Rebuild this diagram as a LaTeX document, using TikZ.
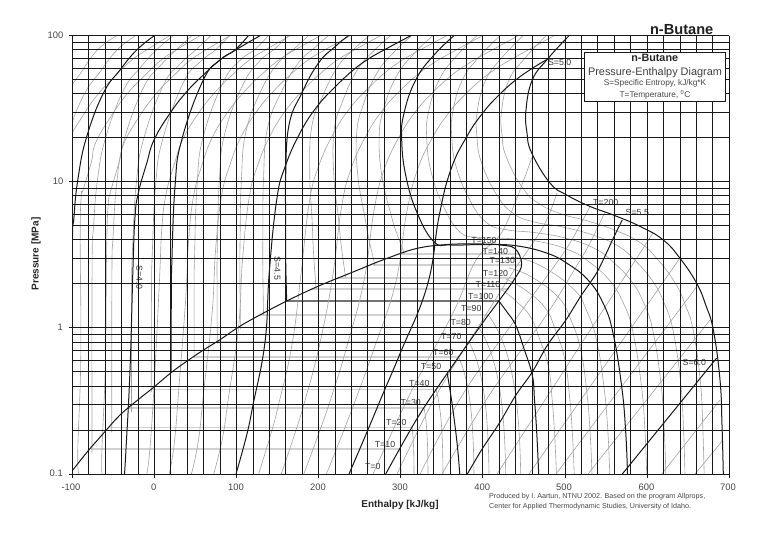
\documentclass[tikz,border=0pt]{standalone}
\usepackage{fontspec}
\setmainfont{Liberation Sans}
\tikzset{
  thinc/.style={draw=black!36,line width=.6pt},
  wetc/.style={draw=black!18,line width=1.1pt},
  heavy/.style={draw=black!90,line width=1pt,line join=round},
  gridln/.style={draw=black!90,line width=.95pt},
  txt/.style={inner sep=0pt,text=black!72,font=\fontsize{9.4}{11}\selectfont},
  lab/.style={inner sep=0pt,text=black!78,font=\fontsize{8.8}{10}\selectfont},
  axl/.style={inner sep=0pt,text=black!85,font=\fontsize{10}{12}\selectfont\bfseries},
  credit/.style={inner sep=0pt,anchor=west,text=black!72,font=\fontsize{7.15}{9}\selectfont},
}
% guide curves (pixel coordinates)
\def\TzX{{72.3,72.3,74,78.3,86.7,103.3,120,136.7,154.3}}
\def\TzY{{472,260,216.7,176.7,136.7,93.3,70,50,35.7}}
\def\TfX{{171,171.3,171.7,175,181.7,203.3,220,235,248.3}}
\def\TfY{{372,300,266.7,186.7,140,80,60,50,35.7}}
\def\ThX{{286.7,285.7,285.7,285.7,289,301.7,318.3,335,348.3}}
\def\ThY{{301,260,220,175,125,93.3,63.3,46.7,35.7}}
\def\TcX{{434,425,417.3,406,401.7,404,415.7,434,454}}
\def\TcY{{241.7,228,213.3,176.7,140,113.3,80,55,35.7}}
\def\ThaX{{499,507,515.7,524,532.3,534.5,536.7,538.7}}
\def\ThaY{{301.3,312,325.3,348.7,375.3,400,432,474}}
\def\TcaX{{515.7,547.3,588,603,613,621.7,625.7,627.5}}
\def\TcaY{{245.7,253.3,280,303,333,386.7,432,474}}
\def\TAX{{454,434,415.7,404,401.7,406,417.3,434,450,484,515.7,547.3,568,588,603,613,621.7,625.7,627.5}}
\def\TAY{{35.7,55,80,113.3,140,176.7,213.3,241.7,245,244.5,245.7,253.3,264,280,303,333,386.7,432,474}}
\def\TBX{{569,547.3,532.3,526,527,531.7,550,566.7,590.7,613.3,640.7,663.3,680,696.7,705.7,713.3,720,722,723.3}}
\def\TBY{{35.7,59.3,80,110,133,153,183,195,206.7,215,226.7,240,258.3,283.3,305,330,380,425,474}}
\def\SaX{{124.5,126,130,133,135,138.3,146.7,154,170,186.7,203.3,220,236.7,260}}
\def\SaY{{474,449,370,267,217,193,163.3,140,113.3,91.7,75,60,49.3,35.7}}
\def\SbX{{236,246.7,253,265,269.3,276.7,285,300,316.7,335,353.3,368.3,384,410.7}}
\def\SbY{{474,435,405,342,272,200,167,133,107,87,70,59,50,35.7}}
\def\ScX{{349,366.7,383,400.7,427.3,439,450.7,466.7,483,499,515.7,532.3,547.3,590}}
\def\ScY{{474,432.7,393.7,352,285.3,216.7,170,136.7,112.7,95,80,68.3,59.3,35.7}}
\newcommand{\blend}[6]{%
  \foreach \f in {#6} {
    \draw[thinc] plot[smooth,tension=.75,variable=\k,samples at={0,...,#5}]
      ({(1-(\f))*#1[int(\k)]+(\f)*#3[int(\k)]},{(1-(\f))*#2[int(\k)]+(\f)*#4[int(\k)]});
  }}
\newcommand{\blackcurve}[3]{%
  \draw[heavy] plot[smooth,tension=.75,variable=\k,samples at={0,...,#3}]
    ({#1[int(\k)]},{#2[int(\k)]});}
\begin{document}
\begin{tikzpicture}[x=1pt,y=-1pt]
\useasboundingbox (0,0) rectangle (768,543);
\fill[white] (0,0) rectangle (768,543);
\begin{scope}
\clip (72.3,35.7) rectangle (729.3,474);
% wet-region isotherms
\foreach \yy/\xa/\xb in {449/90.5/399.5,427.5/109/412,408/127/424,389.5/151/436,357/193/458.5,342/216/469,315/260/488.5,289/311/508.5,278/337/515,265/373/521.7,254/401/519.5}
  \draw[wetc] (\xa,\yy) -- (\xb,\yy);
\draw[draw=black!55,line width=1.3pt] (286.7,301) -- (499,301);
% liquid / dense isotherms (grey)
\blend{\TzX}{\TzY}{\TfX}{\TfY}{8}{-0.4,-0.2,0.2,0.4,0.6,0.8}
\blend{\TfX}{\TfY}{\ThX}{\ThY}{8}{0.2,0.4,0.6,0.8}
\blend{\ThX}{\ThY}{\TcX}{\TcY}{8}{0.2,0.4,0.6,0.8}
% vapour isotherms (grey)
\foreach \xs/\ys/\xe in {399.5/449/401,412/427.5/414,424/408/428,436/389.5/443,458.5/357/474,469/342/489,479/328/505.7,488.5/315/520.7}{
  \pgfmathsetmacro\ca{\xs+.78*(\xe-\xs)}
  \pgfmathsetmacro\cb{\ys+.22*(474-\ys)}
  \pgfmathsetmacro\cc{\xe-.04*(\xe-\xs)}
  \pgfmathsetmacro\cd{\ys+.57*(474-\ys)}
  \draw[thinc] (\xs,\ys) .. controls (\ca,\cb) and (\cc,\cd) .. (\xe,474);
}
\blend{\ThaX}{\ThaY}{\TcaX}{\TcaY}{7}{0.2,0.4,0.6,0.8}
\blend{\TAX}{\TAY}{\TBX}{\TBY}{18}{0.2,0.4,0.6,0.8}
% constant entropy (grey)
\blend{\SaX}{\SaY}{\SbX}{\SbY}{13}{-0.6,-0.4,-0.2,0.2,0.4,0.6,0.8}
\blend{\SbX}{\SbY}{\ScX}{\ScY}{13}{0.2,0.4,0.6,0.8}
\draw[thinc] plot[smooth,tension=.6] coordinates {(373,474) (410,394) (453,313) (476,260) (500,235) (515,203) (531.7,158)};
\draw[thinc] plot[smooth,tension=.6] coordinates {(397,474) (437,394) (487,313) (513,272) (543,227) (557,193)};
\draw[thinc] plot[smooth,tension=.6] coordinates {(420,474) (463,394) (520,313) (550,272) (570,243) (590,206.7)};
\draw[thinc] plot[smooth,tension=.6] coordinates {(442,474) (490,394) (543,320) (573,272) (590,243) (605,212)};
\draw[thinc] (497,474) -- (653,233);
\draw[thinc] (529,474) -- (680,258);
\draw[thinc] (556,474) -- (696.7,286.7);
\draw[thinc] (588,474) -- (710,320);
\draw[thinc] (661.7,474) -- (720,400);
\draw[thinc] (695,474) -- (723,440);
% black curves
\draw[heavy] plot[smooth,tension=.6] coordinates {(72.3,470.7) (88,451) (104,432.7) (120,415) (137.7,400) (154,387) (171,372.7) (186.7,361.3) (203,350.3) (220,339.7) (236,328.7) (253,318.7) (286.7,301) (318.7,286) (353,272) (384,259.5) (417.3,248.3) (450.7,244.3) (484,244) (500,245) (515,248.5) (521.7,264) (515,278.3) (498.3,301.7) (482,323.7) (447,373.7) (417,418.7) (385.7,474)};
\blackcurve{\TzX}{\TzY}{8}
\blackcurve{\TfX}{\TfY}{8}
\blackcurve{\ThX}{\ThY}{8}
\blackcurve{\TAX}{\TAY}{18}
\blackcurve{\TBX}{\TBY}{18}
\blackcurve{\ThaX}{\ThaY}{7}
\blackcurve{\SaX}{\SaY}{13}
\blackcurve{\SbX}{\SbY}{13}
\blackcurve{\ScX}{\ScY}{12}
\draw[heavy] plot[smooth,tension=.7] coordinates {(447.3,373.7) (452.3,405.3) (457.3,445.3) (459.7,474)};
\draw[heavy] plot[smooth,tension=.5] coordinates {(467.3,474) (482.3,448.7) (499,423.7) (515.7,395.3) (532.3,372) (547.3,345.3) (565.7,320.3) (581.3,295.3) (597.3,271.7) (614,236.7) (622.3,220)};
\draw[heavy] (622.3,474) -- (716.7,358);
\end{scope}
% curve labels
\foreach \nm/\tx/\px/\py in {a/T=0/372.7/466,b/T=10/385/444.7,c/T=20/396.3/422.7,d/T=30/410.7/402,e/T=40/419.3/383.7,f/T=50/431/366.7,g/T=60/443.3/352.7,h/T=70/451.3/336.3,i/T=80/460.7/322,j/T=90/471.3/308.7,k/T=100/480.7/296,l/T=110/488/284.7,m/T=120/495.5/273.5,n/T=130/502.3/260.7,o/T=140/495.3/251.3,p/T=150/484/240,q/T=200/605.7/202.3,r/S=5.5/637.3/212.3,s/S=6.0/694.3/362.7,t/S=5.0/559.7/62.7}
  \node[lab] (lab\nm) at (\px,\py) {\tx};
\node[lab,rotate=-90] (labsa) at (139.3,277.3) {S=4.0};
\node[lab,rotate=-90] (labsb) at (277.3,268.3) {S=4.5};
% grid
\foreach \d in {0,1,2}
  \foreach \m in {1,...,9}{
    \pgfmathsetmacro\yy{474-146.1*(\d+log10(\m))}
    \draw[gridln] (72.3,\yy) -- (729.3,\yy);
  }
\draw[gridln] (72.3,35.7) -- (729.3,35.7);
\foreach \n in {0,...,40}{
  \pgfmathsetmacro\xx{72.3+16.426*\n}
  \draw[gridln] (\xx,35.7) -- (\xx,474);
}
% ticks
\foreach \yy in {35.7,181.8,327.9,474} \draw[gridln] (68.5,\yy) -- (72.3,\yy);
\foreach \n in {0,...,8}{
  \pgfmathsetmacro\xx{72.3+82.13*\n}
  \draw[gridln] (\xx,474) -- (\xx,477.5);
}
% tick labels
\node[txt,anchor=east] (ya) at (63.5,35) {100};
\node[txt,anchor=east] (yb) at (63.5,181.5) {10};
\node[txt,anchor=east] (yc) at (63,327) {1};
\node[txt,anchor=east] (yd) at (63,473) {0.1};
\foreach \nm/\v/\xx in {a/-100/71,b/0/153.7,c/100/236,d/200/318,e/300/400,f/400/482.3,g/500/564,h/600/646.5,i/700/728}
  \node[txt] (x\nm) at (\xx,487.7) {\v};
\node[axl] (xtitle) at (400,504.7) {Enthalpy [kJ/kg]};
\node[axl,rotate=90] (ytitle) at (36,254) {Pressure [MPa]};
% title and legend
\node[inner sep=0pt,text=black!88,font=\fontsize{14.6}{17}\selectfont\bfseries] (title) at (681.7,29.5) {n-Butane};
\node[draw=black!90,fill=white,line width=.9pt,minimum width=141.4pt,minimum height=49pt,inner sep=0pt] (legend) at (655,76.8) {};
\node[inner sep=0pt,text=black!85,font=\fontsize{10.8}{13}\selectfont\bfseries] (lega) at (654.7,58) {n-Butane};
\node[inner sep=0pt,text=black!75,font=\fontsize{10.9}{13}\selectfont] (legb) at (655,72.3) {Pressure-Enthalpy Diagram};
\node[inner sep=0pt,text=black!72,font=\fontsize{8.3}{10}\selectfont] (legc) at (655,83.3) {S=Specific Entropy, kJ/kg*K};
\node[inner sep=0pt,text=black!72,font=\fontsize{8.3}{10}\selectfont] (legd) at (655,94.7) {T=Temperature, \textsuperscript{0}C};
\node[credit] (cra) at (489,497) {Produced by I. Aartun, NTNU 2002. Based on the program Allprops,};
\node[credit] (crb) at (489,507) {Center for Applied Thermodynamic Studies, University of Idaho.};
\end{tikzpicture}
\end{document}
